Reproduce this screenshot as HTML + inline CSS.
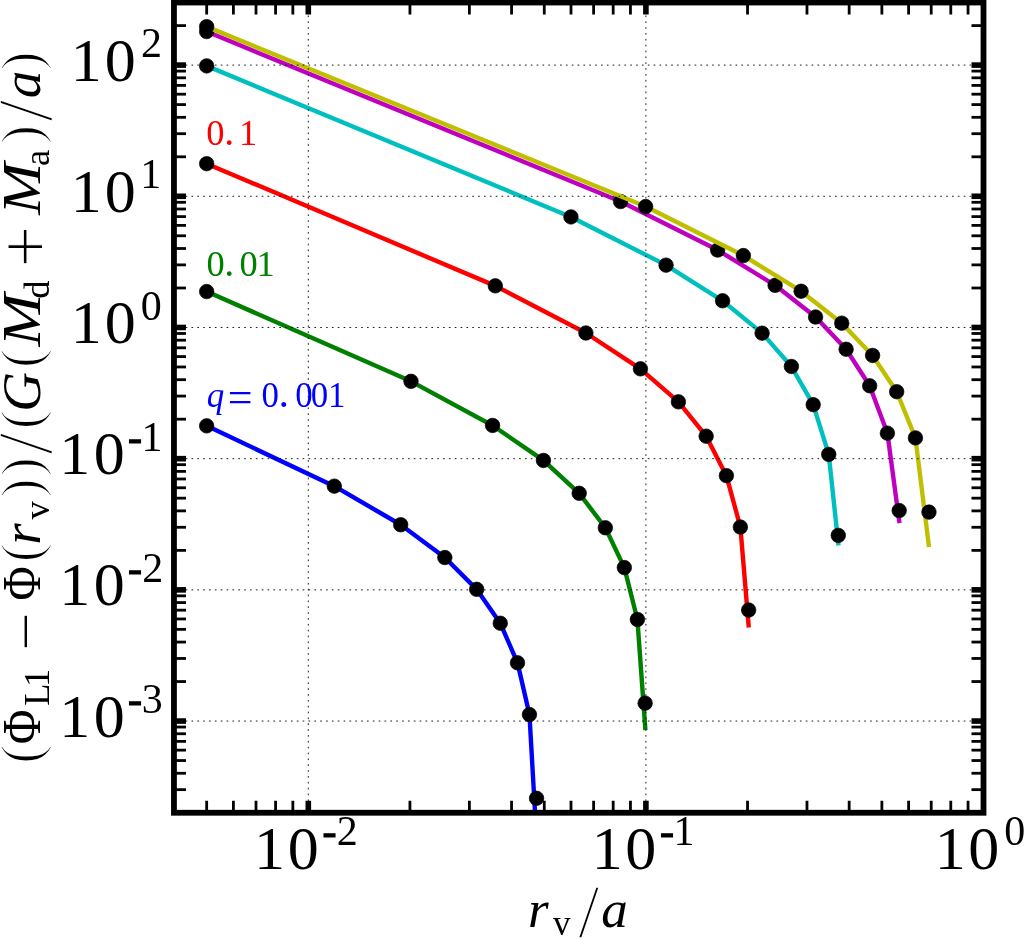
<!DOCTYPE html>
<html><head><meta charset="utf-8"><style>
html,body{margin:0;padding:0;background:#fff;overflow:hidden}
svg{display:block}
text{font-family:"Liberation Serif","DejaVu Serif",serif}
</style></head><body>
<svg width="1025" height="939" viewBox="0 0 1025 939">
<rect width="1025" height="939" fill="#fff"/>
<defs><clipPath id="ax"><rect x="173.96" y="2.51" width="809.54" height="810.24"/></clipPath></defs>
<g clip-path="url(#ax)">
<polyline points="206.65,425.86 334.32,486.14 400.70,524.75 444.82,557.52 476.67,589.32 500.25,623.23 517.50,662.81 529.45,714.60 536.04,830.00" fill="none" stroke="#0000ff" stroke-width="4.4" stroke-linejoin="round" stroke-linecap="butt"/>
<circle cx="206.65" cy="425.86" r="7.25" fill="#000" stroke="#000" stroke-width="0.69"/>
<circle cx="334.32" cy="486.14" r="7.25" fill="#000" stroke="#000" stroke-width="0.69"/>
<circle cx="400.70" cy="524.75" r="7.25" fill="#000" stroke="#000" stroke-width="0.69"/>
<circle cx="444.82" cy="557.52" r="7.25" fill="#000" stroke="#000" stroke-width="0.69"/>
<circle cx="476.67" cy="589.32" r="7.25" fill="#000" stroke="#000" stroke-width="0.69"/>
<circle cx="500.25" cy="623.23" r="7.25" fill="#000" stroke="#000" stroke-width="0.69"/>
<circle cx="517.50" cy="662.81" r="7.25" fill="#000" stroke="#000" stroke-width="0.69"/>
<circle cx="529.45" cy="714.60" r="7.25" fill="#000" stroke="#000" stroke-width="0.69"/>
<circle cx="536.56" cy="798.28" r="7.25" fill="#000" stroke="#000" stroke-width="0.69"/>
<polyline points="206.67,291.60 410.98,381.34 492.57,425.47 543.43,460.43 579.19,493.30 605.33,527.77 624.33,567.62 637.40,619.50 645.40,730.20" fill="none" stroke="#008000" stroke-width="4.4" stroke-linejoin="round" stroke-linecap="butt"/>
<circle cx="206.67" cy="291.60" r="7.25" fill="#000" stroke="#000" stroke-width="0.69"/>
<circle cx="410.98" cy="381.34" r="7.25" fill="#000" stroke="#000" stroke-width="0.69"/>
<circle cx="492.57" cy="425.47" r="7.25" fill="#000" stroke="#000" stroke-width="0.69"/>
<circle cx="543.43" cy="460.43" r="7.25" fill="#000" stroke="#000" stroke-width="0.69"/>
<circle cx="579.19" cy="493.30" r="7.25" fill="#000" stroke="#000" stroke-width="0.69"/>
<circle cx="605.33" cy="527.77" r="7.25" fill="#000" stroke="#000" stroke-width="0.69"/>
<circle cx="624.33" cy="567.62" r="7.25" fill="#000" stroke="#000" stroke-width="0.69"/>
<circle cx="637.40" cy="619.50" r="7.25" fill="#000" stroke="#000" stroke-width="0.69"/>
<circle cx="645.13" cy="703.15" r="7.25" fill="#000" stroke="#000" stroke-width="0.69"/>
<polyline points="206.67,163.70 495.34,285.86 585.90,333.01 640.44,368.83 678.41,401.87 706.16,436.17 726.39,475.65 740.37,527.01 748.80,627.50" fill="none" stroke="#ff0000" stroke-width="4.4" stroke-linejoin="round" stroke-linecap="butt"/>
<circle cx="206.67" cy="163.70" r="7.25" fill="#000" stroke="#000" stroke-width="0.69"/>
<circle cx="495.34" cy="285.86" r="7.25" fill="#000" stroke="#000" stroke-width="0.69"/>
<circle cx="585.90" cy="333.01" r="7.25" fill="#000" stroke="#000" stroke-width="0.69"/>
<circle cx="640.44" cy="368.83" r="7.25" fill="#000" stroke="#000" stroke-width="0.69"/>
<circle cx="678.41" cy="401.87" r="7.25" fill="#000" stroke="#000" stroke-width="0.69"/>
<circle cx="706.16" cy="436.17" r="7.25" fill="#000" stroke="#000" stroke-width="0.69"/>
<circle cx="726.39" cy="475.65" r="7.25" fill="#000" stroke="#000" stroke-width="0.69"/>
<circle cx="740.37" cy="527.01" r="7.25" fill="#000" stroke="#000" stroke-width="0.69"/>
<circle cx="748.66" cy="610.01" r="7.25" fill="#000" stroke="#000" stroke-width="0.69"/>
<polyline points="206.67,65.89 570.96,216.92 666.07,265.14 722.59,300.77 762.10,333.15 791.38,366.48 813.20,404.66 828.74,454.40 838.50,545.60" fill="none" stroke="#00bfbf" stroke-width="4.4" stroke-linejoin="round" stroke-linecap="butt"/>
<circle cx="206.67" cy="65.89" r="7.25" fill="#000" stroke="#000" stroke-width="0.69"/>
<circle cx="570.96" cy="216.92" r="7.25" fill="#000" stroke="#000" stroke-width="0.69"/>
<circle cx="666.07" cy="265.14" r="7.25" fill="#000" stroke="#000" stroke-width="0.69"/>
<circle cx="722.59" cy="300.77" r="7.25" fill="#000" stroke="#000" stroke-width="0.69"/>
<circle cx="762.10" cy="333.15" r="7.25" fill="#000" stroke="#000" stroke-width="0.69"/>
<circle cx="791.38" cy="366.48" r="7.25" fill="#000" stroke="#000" stroke-width="0.69"/>
<circle cx="813.20" cy="404.66" r="7.25" fill="#000" stroke="#000" stroke-width="0.69"/>
<circle cx="828.74" cy="454.40" r="7.25" fill="#000" stroke="#000" stroke-width="0.69"/>
<circle cx="838.27" cy="535.40" r="7.25" fill="#000" stroke="#000" stroke-width="0.69"/>
<polyline points="206.67,31.57 620.60,201.57 717.64,250.06 775.12,285.34 815.58,317.01 846.12,349.24 869.68,385.80 887.39,433.15 899.50,523.10" fill="none" stroke="#bf00bf" stroke-width="4.4" stroke-linejoin="round" stroke-linecap="butt"/>
<circle cx="206.67" cy="31.57" r="7.25" fill="#000" stroke="#000" stroke-width="0.69"/>
<circle cx="620.60" cy="201.57" r="7.25" fill="#000" stroke="#000" stroke-width="0.69"/>
<circle cx="717.64" cy="250.06" r="7.25" fill="#000" stroke="#000" stroke-width="0.69"/>
<circle cx="775.12" cy="285.34" r="7.25" fill="#000" stroke="#000" stroke-width="0.69"/>
<circle cx="815.58" cy="317.01" r="7.25" fill="#000" stroke="#000" stroke-width="0.69"/>
<circle cx="846.12" cy="349.24" r="7.25" fill="#000" stroke="#000" stroke-width="0.69"/>
<circle cx="869.68" cy="385.80" r="7.25" fill="#000" stroke="#000" stroke-width="0.69"/>
<circle cx="887.39" cy="433.15" r="7.25" fill="#000" stroke="#000" stroke-width="0.69"/>
<circle cx="899.19" cy="510.57" r="7.25" fill="#000" stroke="#000" stroke-width="0.69"/>
<polyline points="206.67,26.63 645.63,206.57 743.37,255.58 801.11,291.22 841.76,323.15 872.58,355.45 896.68,391.71 915.43,437.90 929.00,546.90" fill="none" stroke="#bfbf00" stroke-width="4.4" stroke-linejoin="round" stroke-linecap="butt"/>
<circle cx="206.67" cy="26.63" r="7.25" fill="#000" stroke="#000" stroke-width="0.69"/>
<circle cx="645.63" cy="206.57" r="7.25" fill="#000" stroke="#000" stroke-width="0.69"/>
<circle cx="743.37" cy="255.58" r="7.25" fill="#000" stroke="#000" stroke-width="0.69"/>
<circle cx="801.11" cy="291.22" r="7.25" fill="#000" stroke="#000" stroke-width="0.69"/>
<circle cx="841.76" cy="323.15" r="7.25" fill="#000" stroke="#000" stroke-width="0.69"/>
<circle cx="872.58" cy="355.45" r="7.25" fill="#000" stroke="#000" stroke-width="0.69"/>
<circle cx="896.68" cy="391.71" r="7.25" fill="#000" stroke="#000" stroke-width="0.69"/>
<circle cx="915.43" cy="437.90" r="7.25" fill="#000" stroke="#000" stroke-width="0.69"/>
<circle cx="928.95" cy="512.11" r="7.25" fill="#000" stroke="#000" stroke-width="0.69"/>
</g>
<g stroke="#000" stroke-width="0.9" stroke-dasharray="1.65 4.2" fill="none">
<line x1="308.30" y1="812.75" x2="308.30" y2="2.51"/>
<line x1="645.90" y1="812.75" x2="645.90" y2="2.51"/>
<line x1="173.96" y1="65.10" x2="983.50" y2="65.10"/>
<line x1="173.96" y1="196.29" x2="983.50" y2="196.29"/>
<line x1="173.96" y1="327.48" x2="983.50" y2="327.48"/>
<line x1="173.96" y1="458.67" x2="983.50" y2="458.67"/>
<line x1="173.96" y1="589.86" x2="983.50" y2="589.86"/>
<line x1="173.96" y1="721.05" x2="983.50" y2="721.05"/>
</g>
<g stroke="#000" fill="none"><line x1="206.67" y1="812.75" x2="206.67" y2="800.75" stroke-width="2.8"/><line x1="206.67" y1="2.51" x2="206.67" y2="14.51" stroke-width="2.8"/><line x1="233.40" y1="812.75" x2="233.40" y2="800.75" stroke-width="2.8"/><line x1="233.40" y1="2.51" x2="233.40" y2="14.51" stroke-width="2.8"/><line x1="256.01" y1="812.75" x2="256.01" y2="800.75" stroke-width="2.8"/><line x1="256.01" y1="2.51" x2="256.01" y2="14.51" stroke-width="2.8"/><line x1="275.58" y1="812.75" x2="275.58" y2="800.75" stroke-width="2.8"/><line x1="275.58" y1="2.51" x2="275.58" y2="14.51" stroke-width="2.8"/><line x1="292.85" y1="812.75" x2="292.85" y2="800.75" stroke-width="2.8"/><line x1="292.85" y1="2.51" x2="292.85" y2="14.51" stroke-width="2.8"/><line x1="409.93" y1="812.75" x2="409.93" y2="800.75" stroke-width="2.8"/><line x1="409.93" y1="2.51" x2="409.93" y2="14.51" stroke-width="2.8"/><line x1="469.38" y1="812.75" x2="469.38" y2="800.75" stroke-width="2.8"/><line x1="469.38" y1="2.51" x2="469.38" y2="14.51" stroke-width="2.8"/><line x1="511.56" y1="812.75" x2="511.56" y2="800.75" stroke-width="2.8"/><line x1="511.56" y1="2.51" x2="511.56" y2="14.51" stroke-width="2.8"/><line x1="544.27" y1="812.75" x2="544.27" y2="800.75" stroke-width="2.8"/><line x1="544.27" y1="2.51" x2="544.27" y2="14.51" stroke-width="2.8"/><line x1="571.00" y1="812.75" x2="571.00" y2="800.75" stroke-width="2.8"/><line x1="571.00" y1="2.51" x2="571.00" y2="14.51" stroke-width="2.8"/><line x1="593.61" y1="812.75" x2="593.61" y2="800.75" stroke-width="2.8"/><line x1="593.61" y1="2.51" x2="593.61" y2="14.51" stroke-width="2.8"/><line x1="613.18" y1="812.75" x2="613.18" y2="800.75" stroke-width="2.8"/><line x1="613.18" y1="2.51" x2="613.18" y2="14.51" stroke-width="2.8"/><line x1="630.45" y1="812.75" x2="630.45" y2="800.75" stroke-width="2.8"/><line x1="630.45" y1="2.51" x2="630.45" y2="14.51" stroke-width="2.8"/><line x1="747.53" y1="812.75" x2="747.53" y2="800.75" stroke-width="2.8"/><line x1="747.53" y1="2.51" x2="747.53" y2="14.51" stroke-width="2.8"/><line x1="806.98" y1="812.75" x2="806.98" y2="800.75" stroke-width="2.8"/><line x1="806.98" y1="2.51" x2="806.98" y2="14.51" stroke-width="2.8"/><line x1="849.16" y1="812.75" x2="849.16" y2="800.75" stroke-width="2.8"/><line x1="849.16" y1="2.51" x2="849.16" y2="14.51" stroke-width="2.8"/><line x1="881.87" y1="812.75" x2="881.87" y2="800.75" stroke-width="2.8"/><line x1="881.87" y1="2.51" x2="881.87" y2="14.51" stroke-width="2.8"/><line x1="908.60" y1="812.75" x2="908.60" y2="800.75" stroke-width="2.8"/><line x1="908.60" y1="2.51" x2="908.60" y2="14.51" stroke-width="2.8"/><line x1="931.21" y1="812.75" x2="931.21" y2="800.75" stroke-width="2.8"/><line x1="931.21" y1="2.51" x2="931.21" y2="14.51" stroke-width="2.8"/><line x1="950.78" y1="812.75" x2="950.78" y2="800.75" stroke-width="2.8"/><line x1="950.78" y1="2.51" x2="950.78" y2="14.51" stroke-width="2.8"/><line x1="968.05" y1="812.75" x2="968.05" y2="800.75" stroke-width="2.8"/><line x1="968.05" y1="2.51" x2="968.05" y2="14.51" stroke-width="2.8"/><line x1="308.30" y1="812.75" x2="308.30" y2="800.75" stroke-width="5.6"/><line x1="308.30" y1="2.51" x2="308.30" y2="14.51" stroke-width="5.6"/><line x1="645.90" y1="812.75" x2="645.90" y2="800.75" stroke-width="5.6"/><line x1="645.90" y1="2.51" x2="645.90" y2="14.51" stroke-width="5.6"/><line x1="173.96" y1="789.65" x2="185.96" y2="789.65" stroke-width="2.8"/><line x1="983.50" y1="789.65" x2="971.50" y2="789.65" stroke-width="2.8"/><line x1="173.96" y1="773.26" x2="185.96" y2="773.26" stroke-width="2.8"/><line x1="983.50" y1="773.26" x2="971.50" y2="773.26" stroke-width="2.8"/><line x1="173.96" y1="760.54" x2="185.96" y2="760.54" stroke-width="2.8"/><line x1="983.50" y1="760.54" x2="971.50" y2="760.54" stroke-width="2.8"/><line x1="173.96" y1="750.15" x2="185.96" y2="750.15" stroke-width="2.8"/><line x1="983.50" y1="750.15" x2="971.50" y2="750.15" stroke-width="2.8"/><line x1="173.96" y1="741.37" x2="185.96" y2="741.37" stroke-width="2.8"/><line x1="983.50" y1="741.37" x2="971.50" y2="741.37" stroke-width="2.8"/><line x1="173.96" y1="733.76" x2="185.96" y2="733.76" stroke-width="2.8"/><line x1="983.50" y1="733.76" x2="971.50" y2="733.76" stroke-width="2.8"/><line x1="173.96" y1="727.05" x2="185.96" y2="727.05" stroke-width="2.8"/><line x1="983.50" y1="727.05" x2="971.50" y2="727.05" stroke-width="2.8"/><line x1="173.96" y1="681.56" x2="185.96" y2="681.56" stroke-width="2.8"/><line x1="983.50" y1="681.56" x2="971.50" y2="681.56" stroke-width="2.8"/><line x1="173.96" y1="658.46" x2="185.96" y2="658.46" stroke-width="2.8"/><line x1="983.50" y1="658.46" x2="971.50" y2="658.46" stroke-width="2.8"/><line x1="173.96" y1="642.07" x2="185.96" y2="642.07" stroke-width="2.8"/><line x1="983.50" y1="642.07" x2="971.50" y2="642.07" stroke-width="2.8"/><line x1="173.96" y1="629.35" x2="185.96" y2="629.35" stroke-width="2.8"/><line x1="983.50" y1="629.35" x2="971.50" y2="629.35" stroke-width="2.8"/><line x1="173.96" y1="618.96" x2="185.96" y2="618.96" stroke-width="2.8"/><line x1="983.50" y1="618.96" x2="971.50" y2="618.96" stroke-width="2.8"/><line x1="173.96" y1="610.18" x2="185.96" y2="610.18" stroke-width="2.8"/><line x1="983.50" y1="610.18" x2="971.50" y2="610.18" stroke-width="2.8"/><line x1="173.96" y1="602.57" x2="185.96" y2="602.57" stroke-width="2.8"/><line x1="983.50" y1="602.57" x2="971.50" y2="602.57" stroke-width="2.8"/><line x1="173.96" y1="595.86" x2="185.96" y2="595.86" stroke-width="2.8"/><line x1="983.50" y1="595.86" x2="971.50" y2="595.86" stroke-width="2.8"/><line x1="173.96" y1="550.37" x2="185.96" y2="550.37" stroke-width="2.8"/><line x1="983.50" y1="550.37" x2="971.50" y2="550.37" stroke-width="2.8"/><line x1="173.96" y1="527.27" x2="185.96" y2="527.27" stroke-width="2.8"/><line x1="983.50" y1="527.27" x2="971.50" y2="527.27" stroke-width="2.8"/><line x1="173.96" y1="510.88" x2="185.96" y2="510.88" stroke-width="2.8"/><line x1="983.50" y1="510.88" x2="971.50" y2="510.88" stroke-width="2.8"/><line x1="173.96" y1="498.16" x2="185.96" y2="498.16" stroke-width="2.8"/><line x1="983.50" y1="498.16" x2="971.50" y2="498.16" stroke-width="2.8"/><line x1="173.96" y1="487.77" x2="185.96" y2="487.77" stroke-width="2.8"/><line x1="983.50" y1="487.77" x2="971.50" y2="487.77" stroke-width="2.8"/><line x1="173.96" y1="478.99" x2="185.96" y2="478.99" stroke-width="2.8"/><line x1="983.50" y1="478.99" x2="971.50" y2="478.99" stroke-width="2.8"/><line x1="173.96" y1="471.38" x2="185.96" y2="471.38" stroke-width="2.8"/><line x1="983.50" y1="471.38" x2="971.50" y2="471.38" stroke-width="2.8"/><line x1="173.96" y1="464.67" x2="185.96" y2="464.67" stroke-width="2.8"/><line x1="983.50" y1="464.67" x2="971.50" y2="464.67" stroke-width="2.8"/><line x1="173.96" y1="419.18" x2="185.96" y2="419.18" stroke-width="2.8"/><line x1="983.50" y1="419.18" x2="971.50" y2="419.18" stroke-width="2.8"/><line x1="173.96" y1="396.08" x2="185.96" y2="396.08" stroke-width="2.8"/><line x1="983.50" y1="396.08" x2="971.50" y2="396.08" stroke-width="2.8"/><line x1="173.96" y1="379.69" x2="185.96" y2="379.69" stroke-width="2.8"/><line x1="983.50" y1="379.69" x2="971.50" y2="379.69" stroke-width="2.8"/><line x1="173.96" y1="366.97" x2="185.96" y2="366.97" stroke-width="2.8"/><line x1="983.50" y1="366.97" x2="971.50" y2="366.97" stroke-width="2.8"/><line x1="173.96" y1="356.58" x2="185.96" y2="356.58" stroke-width="2.8"/><line x1="983.50" y1="356.58" x2="971.50" y2="356.58" stroke-width="2.8"/><line x1="173.96" y1="347.80" x2="185.96" y2="347.80" stroke-width="2.8"/><line x1="983.50" y1="347.80" x2="971.50" y2="347.80" stroke-width="2.8"/><line x1="173.96" y1="340.19" x2="185.96" y2="340.19" stroke-width="2.8"/><line x1="983.50" y1="340.19" x2="971.50" y2="340.19" stroke-width="2.8"/><line x1="173.96" y1="333.48" x2="185.96" y2="333.48" stroke-width="2.8"/><line x1="983.50" y1="333.48" x2="971.50" y2="333.48" stroke-width="2.8"/><line x1="173.96" y1="287.99" x2="185.96" y2="287.99" stroke-width="2.8"/><line x1="983.50" y1="287.99" x2="971.50" y2="287.99" stroke-width="2.8"/><line x1="173.96" y1="264.89" x2="185.96" y2="264.89" stroke-width="2.8"/><line x1="983.50" y1="264.89" x2="971.50" y2="264.89" stroke-width="2.8"/><line x1="173.96" y1="248.50" x2="185.96" y2="248.50" stroke-width="2.8"/><line x1="983.50" y1="248.50" x2="971.50" y2="248.50" stroke-width="2.8"/><line x1="173.96" y1="235.78" x2="185.96" y2="235.78" stroke-width="2.8"/><line x1="983.50" y1="235.78" x2="971.50" y2="235.78" stroke-width="2.8"/><line x1="173.96" y1="225.39" x2="185.96" y2="225.39" stroke-width="2.8"/><line x1="983.50" y1="225.39" x2="971.50" y2="225.39" stroke-width="2.8"/><line x1="173.96" y1="216.61" x2="185.96" y2="216.61" stroke-width="2.8"/><line x1="983.50" y1="216.61" x2="971.50" y2="216.61" stroke-width="2.8"/><line x1="173.96" y1="209.00" x2="185.96" y2="209.00" stroke-width="2.8"/><line x1="983.50" y1="209.00" x2="971.50" y2="209.00" stroke-width="2.8"/><line x1="173.96" y1="202.29" x2="185.96" y2="202.29" stroke-width="2.8"/><line x1="983.50" y1="202.29" x2="971.50" y2="202.29" stroke-width="2.8"/><line x1="173.96" y1="156.80" x2="185.96" y2="156.80" stroke-width="2.8"/><line x1="983.50" y1="156.80" x2="971.50" y2="156.80" stroke-width="2.8"/><line x1="173.96" y1="133.70" x2="185.96" y2="133.70" stroke-width="2.8"/><line x1="983.50" y1="133.70" x2="971.50" y2="133.70" stroke-width="2.8"/><line x1="173.96" y1="117.31" x2="185.96" y2="117.31" stroke-width="2.8"/><line x1="983.50" y1="117.31" x2="971.50" y2="117.31" stroke-width="2.8"/><line x1="173.96" y1="104.59" x2="185.96" y2="104.59" stroke-width="2.8"/><line x1="983.50" y1="104.59" x2="971.50" y2="104.59" stroke-width="2.8"/><line x1="173.96" y1="94.20" x2="185.96" y2="94.20" stroke-width="2.8"/><line x1="983.50" y1="94.20" x2="971.50" y2="94.20" stroke-width="2.8"/><line x1="173.96" y1="85.42" x2="185.96" y2="85.42" stroke-width="2.8"/><line x1="983.50" y1="85.42" x2="971.50" y2="85.42" stroke-width="2.8"/><line x1="173.96" y1="77.81" x2="185.96" y2="77.81" stroke-width="2.8"/><line x1="983.50" y1="77.81" x2="971.50" y2="77.81" stroke-width="2.8"/><line x1="173.96" y1="71.10" x2="185.96" y2="71.10" stroke-width="2.8"/><line x1="983.50" y1="71.10" x2="971.50" y2="71.10" stroke-width="2.8"/><line x1="173.96" y1="25.61" x2="185.96" y2="25.61" stroke-width="2.8"/><line x1="983.50" y1="25.61" x2="971.50" y2="25.61" stroke-width="2.8"/><line x1="173.96" y1="721.05" x2="185.96" y2="721.05" stroke-width="5.6"/><line x1="983.50" y1="721.05" x2="971.50" y2="721.05" stroke-width="5.6"/><line x1="173.96" y1="589.86" x2="185.96" y2="589.86" stroke-width="5.6"/><line x1="983.50" y1="589.86" x2="971.50" y2="589.86" stroke-width="5.6"/><line x1="173.96" y1="458.67" x2="185.96" y2="458.67" stroke-width="5.6"/><line x1="983.50" y1="458.67" x2="971.50" y2="458.67" stroke-width="5.6"/><line x1="173.96" y1="327.48" x2="185.96" y2="327.48" stroke-width="5.6"/><line x1="983.50" y1="327.48" x2="971.50" y2="327.48" stroke-width="5.6"/><line x1="173.96" y1="196.29" x2="185.96" y2="196.29" stroke-width="5.6"/><line x1="983.50" y1="196.29" x2="971.50" y2="196.29" stroke-width="5.6"/><line x1="173.96" y1="65.10" x2="185.96" y2="65.10" stroke-width="5.6"/><line x1="983.50" y1="65.10" x2="971.50" y2="65.10" stroke-width="5.6"/></g>
<rect x="173.96" y="2.51" width="809.54" height="810.24" fill="none" stroke="#000" stroke-width="5.8" stroke-linejoin="miter"/>
<text fill="#000"><tspan x="254.05" y="869.00" font-size="62">1</tspan><tspan x="287.64" y="869.00" font-size="62">0</tspan><tspan x="322.39" y="845.40" font-size="42" stroke="#000" stroke-width="1.2">-</tspan><tspan x="336.64" y="845.40" font-size="42">2</tspan></text>
<text fill="#000"><tspan x="591.65" y="869.00" font-size="62">1</tspan><tspan x="625.24" y="869.00" font-size="62">0</tspan><tspan x="659.99" y="845.40" font-size="42" stroke="#000" stroke-width="1.2">-</tspan><tspan x="673.42" y="845.40" font-size="42">1</tspan></text>
<text fill="#000"><tspan x="934.65" y="869.00" font-size="62">1</tspan><tspan x="968.34" y="869.00" font-size="62">0</tspan><tspan x="1004.30" y="845.40" font-size="42">0</tspan></text>
<text fill="#000"><tspan x="70.65" y="80.70" font-size="62">1</tspan><tspan x="104.84" y="80.70" font-size="62">0</tspan><tspan x="141.04" y="57.20" font-size="42">2</tspan></text>
<text fill="#000"><tspan x="70.65" y="211.89" font-size="62">1</tspan><tspan x="104.84" y="211.89" font-size="62">0</tspan><tspan x="140.22" y="188.39" font-size="42">1</tspan></text>
<text fill="#000"><tspan x="70.65" y="343.08" font-size="62">1</tspan><tspan x="104.84" y="343.08" font-size="62">0</tspan><tspan x="140.80" y="319.58" font-size="42">0</tspan></text>
<text fill="#000"><tspan x="59.35" y="474.27" font-size="62">1</tspan><tspan x="93.64" y="474.27" font-size="62">0</tspan><tspan x="127.99" y="450.77" font-size="42" stroke="#000" stroke-width="1.2">-</tspan><tspan x="141.42" y="450.77" font-size="42">1</tspan></text>
<text fill="#000"><tspan x="59.35" y="605.46" font-size="62">1</tspan><tspan x="93.64" y="605.46" font-size="62">0</tspan><tspan x="127.99" y="581.96" font-size="42" stroke="#000" stroke-width="1.2">-</tspan><tspan x="142.24" y="581.96" font-size="42">2</tspan></text>
<text fill="#000"><tspan x="59.35" y="736.65" font-size="62">1</tspan><tspan x="93.64" y="736.65" font-size="62">0</tspan><tspan x="127.99" y="713.15" font-size="42" stroke="#000" stroke-width="1.2">-</tspan><tspan x="141.82" y="713.15" font-size="42">3</tspan></text>
<text><tspan x="528.05" y="926.50" font-size="53" font-style="italic">r</tspan><tspan x="553.00" y="934.90" font-size="35">v</tspan><tspan x="578.30" y="936.50" font-size="76" stroke="#fff" stroke-width="1.6">/</tspan><tspan x="601.32" y="926.50" font-size="53" font-style="italic">a</tspan></text>
<text transform="rotate(-90)"><tspan x="-763.75" y="40.00" font-size="58" stroke="#fff" stroke-width="1.6">(</tspan><tspan x="-705.65" y="48.70" font-size="36.5">L</tspan><tspan x="-687.01" y="48.70" font-size="36.5">1</tspan><tspan x="-651.19" y="48.50" font-size="70" stroke="#fff" stroke-width="1.0">−</tspan><tspan x="-562.35" y="40.20" font-size="58" stroke="#fff" stroke-width="1.6">(</tspan><tspan x="-544.83" y="40.20" font-size="55" font-style="italic">r</tspan><tspan x="-519.40" y="48.70" font-size="36.5">v</tspan><tspan x="-497.87" y="40.20" font-size="58" stroke="#fff" stroke-width="1.6">)</tspan><tspan x="-476.57" y="40.20" font-size="58" stroke="#fff" stroke-width="1.6">)</tspan><tspan x="-454.60" y="51.00" font-size="78" stroke="#fff" stroke-width="1.6">/</tspan><tspan x="-429.35" y="40.20" font-size="58" stroke="#fff" stroke-width="1.6">(</tspan><tspan x="-411.63" y="40.20" font-size="55" font-style="italic">G</tspan><tspan x="-368.05" y="40.20" font-size="58" stroke="#fff" stroke-width="1.6">(</tspan><tspan x="-298.82" y="48.70" font-size="36.5">d</tspan><tspan x="-267.59" y="50.40" font-size="74" stroke="#fff" stroke-width="1.0">+</tspan><tspan x="-165.88" y="48.70" font-size="36.5">a</tspan><tspan x="-144.37" y="40.20" font-size="58" stroke="#fff" stroke-width="1.6">)</tspan><tspan x="-121.50" y="51.00" font-size="78" stroke="#fff" stroke-width="1.6">/</tspan><tspan x="-98.14" y="40.20" font-size="55" font-style="italic">a</tspan><tspan x="-70.67" y="40.20" font-size="58" stroke="#fff" stroke-width="1.6">)</tspan></text>
<text transform="rotate(-90) translate(-744.34,40.20) scale(0.865,1)" font-size="55">Φ</text>
<text transform="rotate(-90) translate(-600.61,40.20) scale(0.849,1)" font-size="55">Φ</text>
<text transform="rotate(-90) translate(-346.56,40.20) scale(1.153,1)" font-size="55" font-style="italic">M</text>
<text transform="rotate(-90) translate(-214.67,40.20) scale(1.135,1)" font-size="55" font-style="italic">M</text>
<text fill="#ff0000"><tspan x="206.31" y="145.00" font-size="36.4">0</tspan><tspan x="224.16" y="145.00" font-size="40">.</tspan><tspan x="238.90" y="145.00" font-size="36.4">1</tspan></text>
<text fill="#008000"><tspan x="206.51" y="276.00" font-size="36.4">0</tspan><tspan x="224.16" y="276.00" font-size="40">.</tspan><tspan x="239.41" y="276.00" font-size="36.4">0</tspan><tspan x="256.50" y="276.00" font-size="36.4">1</tspan></text>
<text fill="#0000ff"><tspan x="206.84" y="406.50" font-size="35" font-style="italic">q</tspan><tspan x="227.81" y="412.30" font-size="44">=</tspan><tspan x="261.57" y="406.50" font-size="34.8">0</tspan><tspan x="278.43" y="406.50" font-size="42">.</tspan><tspan x="295.27" y="406.50" font-size="34.8">0</tspan><tspan x="310.67" y="406.50" font-size="34.8">0</tspan><tspan x="327.94" y="406.50" font-size="34.8">1</tspan></text>
</svg>
</body></html>
